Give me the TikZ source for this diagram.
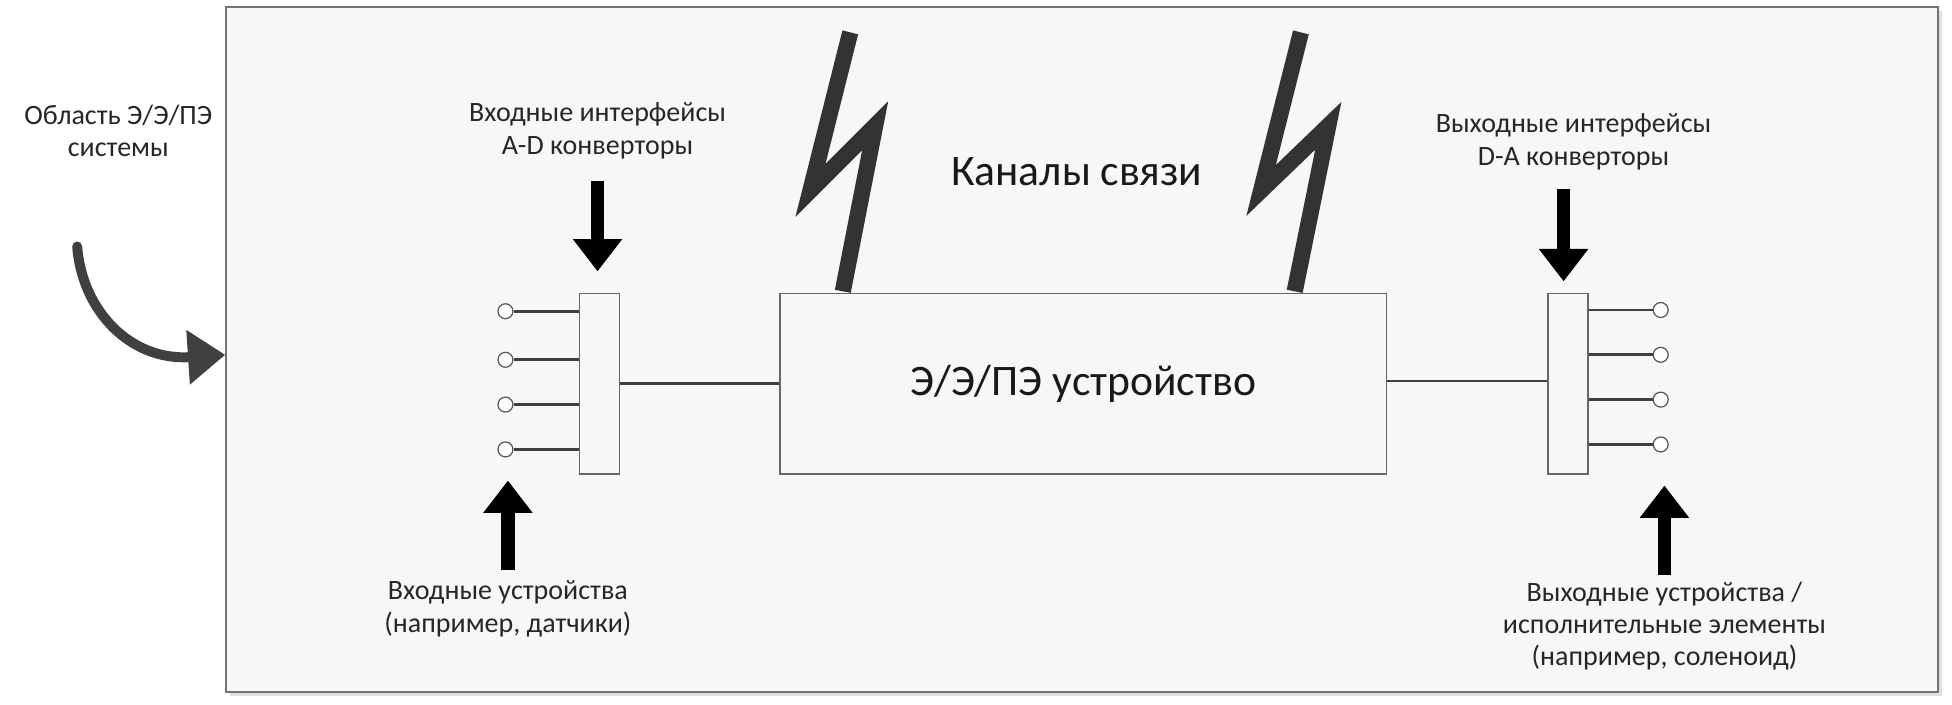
\documentclass[tikz,border=0pt]{standalone}
\usepackage{fontspec}
\setmainfont{Carlito}
\usetikzlibrary{arrows.meta}
\begin{document}
\begin{tikzpicture}[x=1pt,y=-1pt,
  lbl/.style={font=\fontsize{22.5}{26}\selectfont,align=center,text=black!85,inner sep=0},
  big/.style={font=\fontsize{35}{38}\selectfont,text=black!90,inner sep=0},
  box/.style={draw=black!60,line width=1.2pt,fill=white!97!black},
  wire/.style={draw=black!75,line width=2.2pt},
  pin/.style={circle,draw=black!65,line width=1pt,fill=white,minimum size=12pt,inner sep=0},
  fat/.style={line width=11pt,-{Triangle[width=38pt,length=26pt]}},
  bolt/.style={draw=black!80,line width=13pt,miter limit=10}]
\useasboundingbox (0,0) rectangle (1568,566);
\fill[black!12] (185,9) rectangle (1560,559);
\node[draw=black!55,line width=1.4pt,fill=black!3,minimum width=1375pt,minimum height=550pt,inner sep=0,anchor=north west] (frame) at (181,5) {};
\node[lbl] (area) at (95,105) {Область Э/Э/ПЭ\\системы};
\coordinate (cs) at (62,198);
\draw[black!75,line width=8pt,line cap=round,-{Triangle[width=42pt,length=30pt]}] (cs) .. controls (66,250) and (105,290) .. (frame.west |- 0,285);
% left interface
\node[lbl] (inif) at (480,105) {Входные интерфейсы\\A-D конверторы};
\node[box,minimum width=32pt,minimum height=145pt,inner sep=0,anchor=north west] (lif) at (465,235) {};
\coordinate (la1) at (480,145); \coordinate (la2) at (480,218);
\draw[fat] (la1) -- (la2);
\foreach \y/\n in {250/1,289/2,325/3,361/4}{
  \node[pin] (lp\n) at (406,\y) {};
  \draw[wire] (lp\n.east) -- (lp\n.east -| lif.west);
}
\coordinate (lb1) at (408,458); \coordinate (lb2) at (408,386);
\draw[fat] (lb1) -- (lb2);
\node[lbl] (indev) at (408,489) {Входные устройства\\(например, датчики)};
% center
\node[box,minimum width=487pt,minimum height=145pt,inner sep=0,anchor=north west] (dev) at (626,235) {};
\node[big] at (dev.center) {Э/Э/ПЭ устройство};
\node[big] (chan) at (865,138) {Каналы связи};
\draw[wire] (lif.east) -- (lif.east -| dev.west);
\draw[bolt] (683,26) -- (651,153) -- (703,101) -- (677,234);
\draw[bolt] (1045,26) -- (1013,153) -- (1067,101) -- (1040,234);
% right interface
\node[box,minimum width=32pt,minimum height=145pt,inner sep=0,anchor=north west] (rif) at (1243,235) {};
\draw[wire] (dev.east |- 0,306) -- (rif.west |- 0,306);
\node[lbl] (outif) at (1264,114) {Выходные интерфейсы\\D-A конверторы};
\coordinate (ra1) at (1256,152); \coordinate (ra2) at (1256,226);
\draw[fat] (ra1) -- (ra2);
\foreach \y/\n in {249/1,285/2,321/3,357/4}{
  \node[pin] (rp\n) at (1334,\y) {};
  \draw[wire] (rp\n.west -| rif.east) -- (rp\n.west);
}
\coordinate (rb1) at (1337,462); \coordinate (rb2) at (1337,390);
\draw[fat] (rb1) -- (rb2);
\node[lbl] (outdev) at (1337,503) {Выходные устройства /\\исполнительные элементы\\(например, соленоид)};
\end{tikzpicture}
\end{document}
